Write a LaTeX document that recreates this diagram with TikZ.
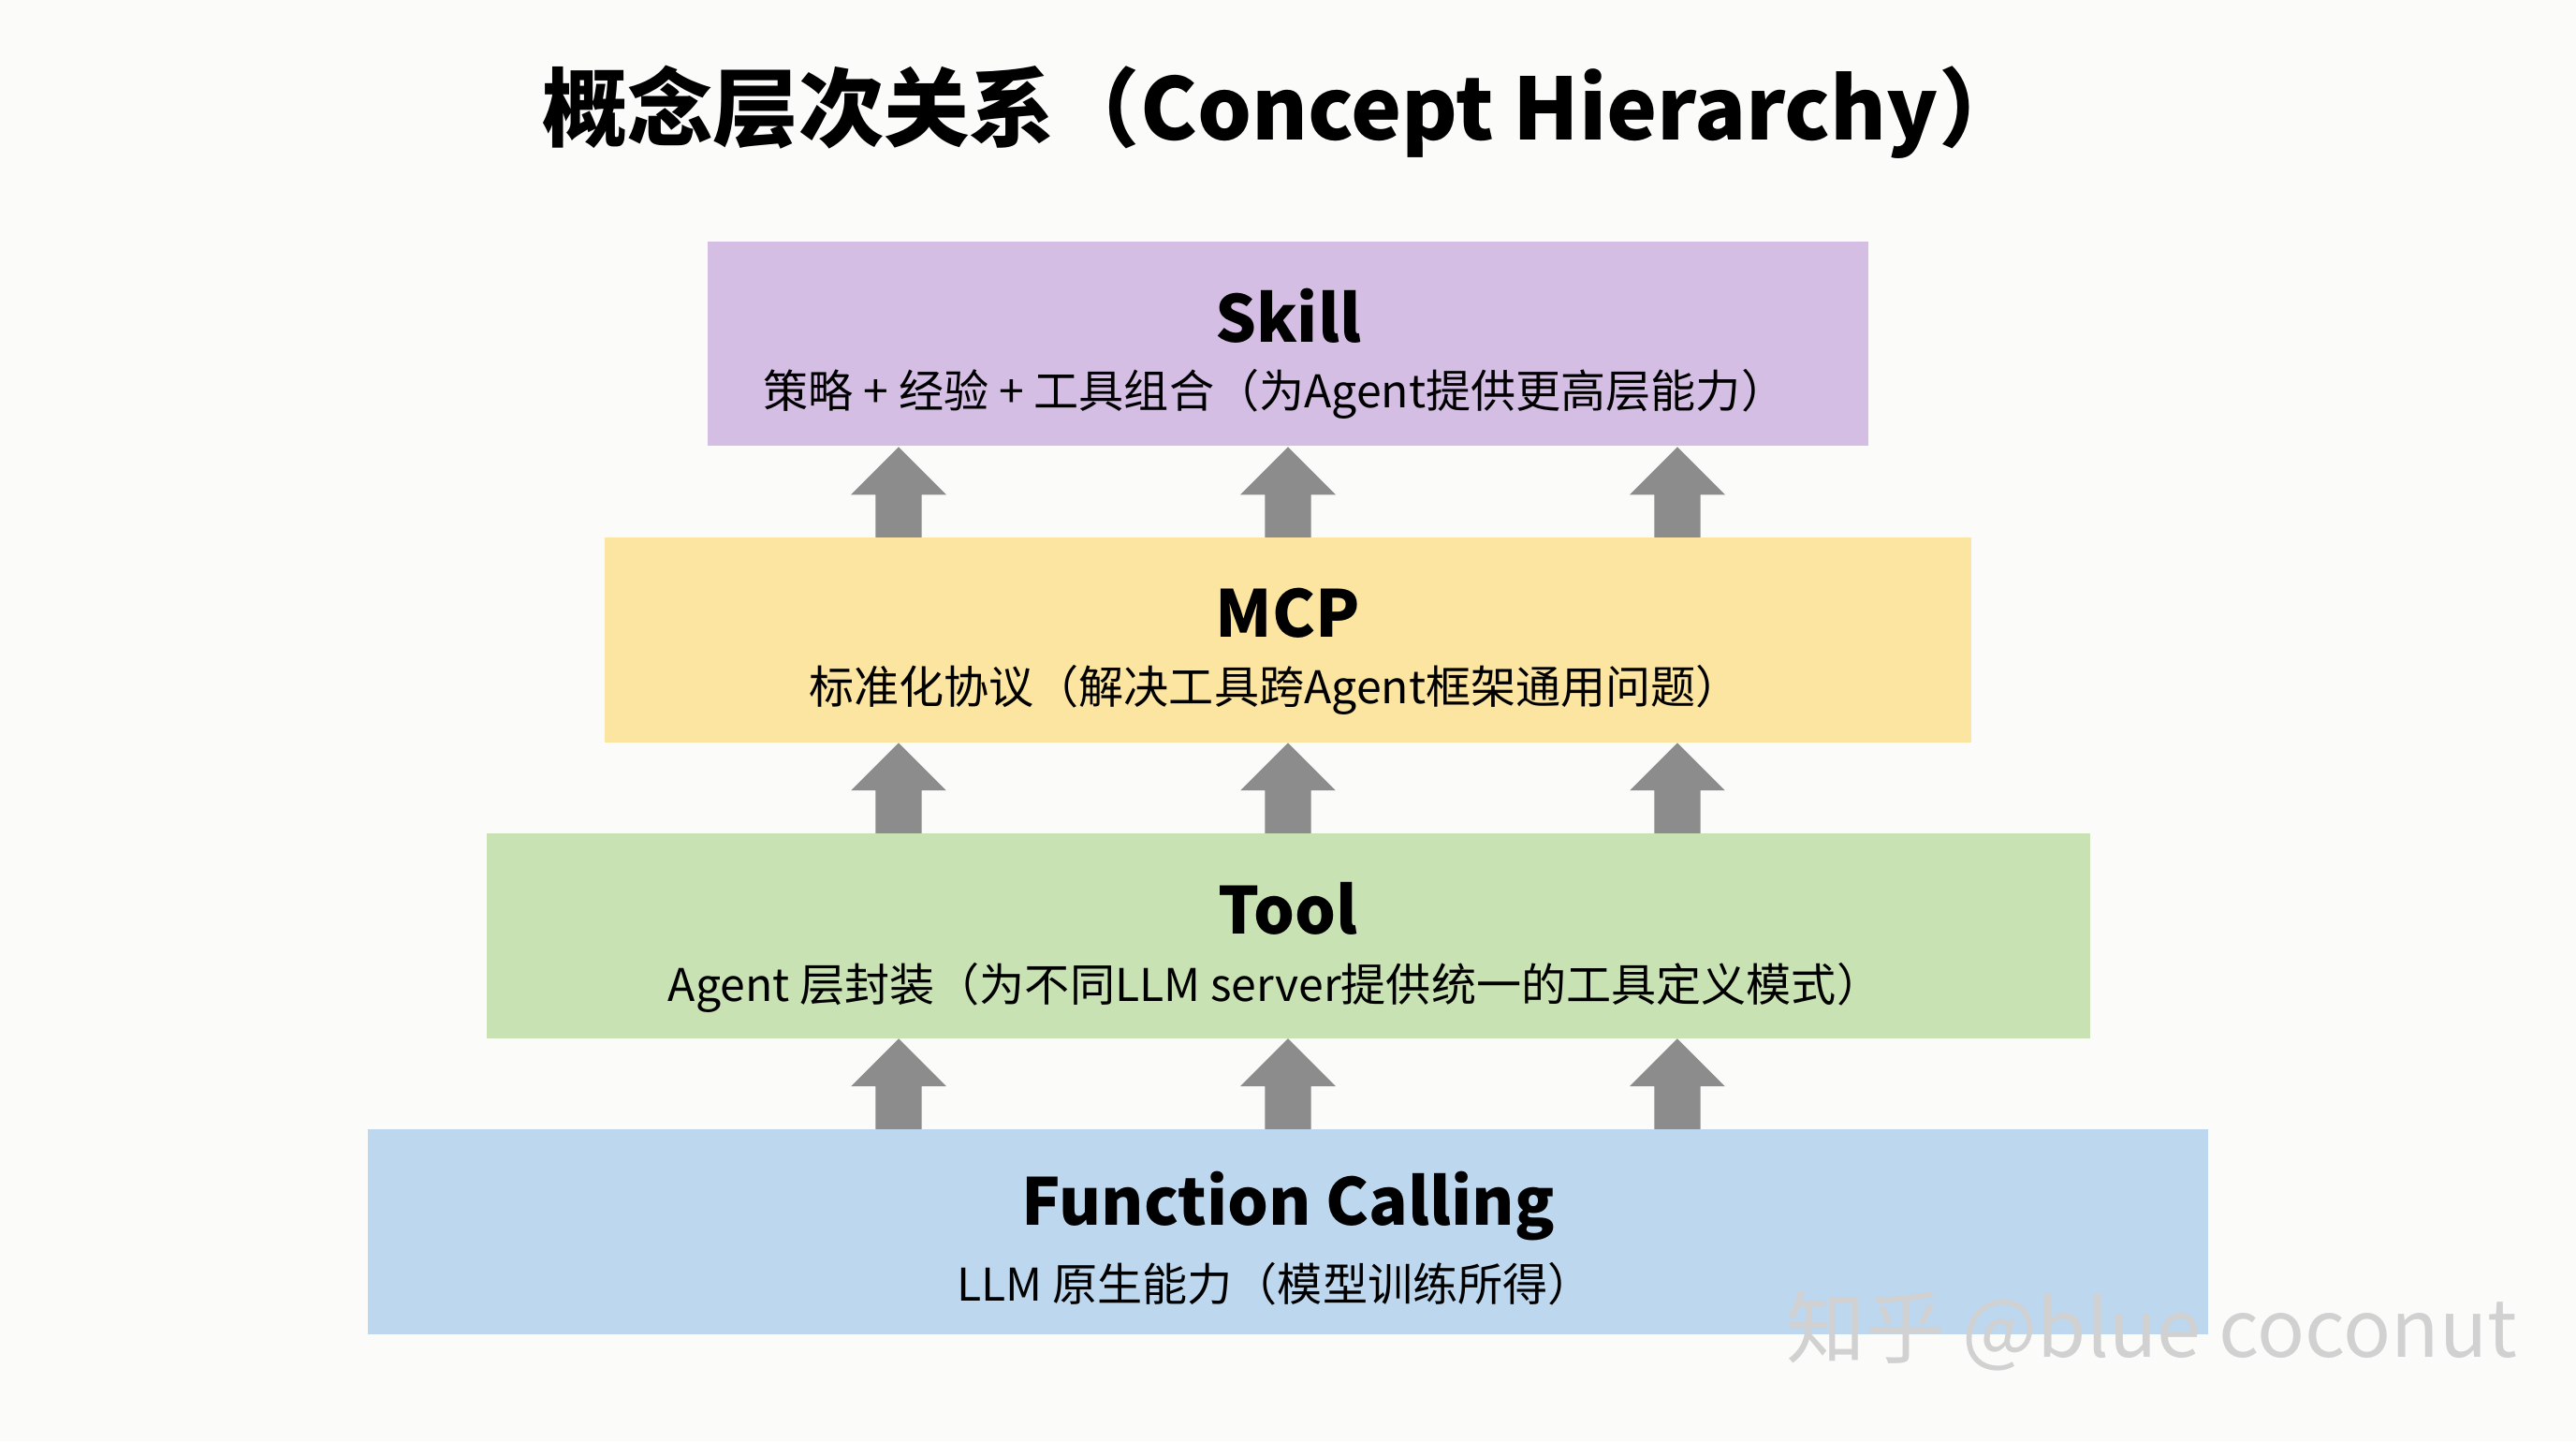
\documentclass[tikz,border=0pt]{standalone}
\usepackage{fontspec}
\setmainfont{Noto Sans CJK SC}
\definecolor{bgc}{HTML}{FBFBFA}
\definecolor{skillc}{HTML}{D4BEE4}
\definecolor{mcpc}{HTML}{FCE5A0}
\definecolor{toolc}{HTML}{C9E2B4}
\definecolor{fcc}{HTML}{BDD7EE}
\definecolor{arr}{HTML}{8C8C8C}
\begin{document}
\begin{tikzpicture}[x=0.1mm,y=-0.1mm,
  ttl/.style={font=\fontsize{11.2}{13}\selectfont\bfseries},
  sub/.style={font=\fontsize{7.8}{10}\selectfont}]
\fill[bgc] (0,0) rectangle (1568,877);
\useasboundingbox (0,0) rectangle (1568,877);
\node[font=\fontsize{14.8}{17}\selectfont\bfseries] (title) at (781,68) {概念层次关系（Concept Hierarchy）};
\fill[skillc] (431,147) rectangle (1137,271);
\fill[mcpc] (368,327) rectangle (1200,452);
\fill[toolc] (296,507) rectangle (1272,632);
\fill[fcc] (224,687) rectangle (1344,812);
\node[ttl] (s1) at (784,192) {Skill};
\node[sub] (s2) at (776,240) {策略 + 经验 + 工具组合（为Agent提供更高层能力）};
\node[ttl] (m1) at (784,373) {MCP};
\node[sub] (m2) at (776,420) {标准化协议（解决工具跨Agent框架通用问题）};
\node[ttl] (t1) at (784,553) {Tool};
\node[sub] (t2) at (776,601) {Agent 层封装（为不同LLM server提供统一的工具定义模式）};
\node[ttl] (f1) at (784,734) {Function Calling};
\node[sub] (f2) at (776,781) {LLM 原生能力（模型训练所得）};
\foreach \yt in {272,452,632}{
  \foreach \xc in {547,784,1021}{
    \fill[arr] (\xc,\yt) -- (\xc+29,\yt+29) -- (\xc+14,\yt+29) -- (\xc+14,\yt+55)
      -- (\xc-14,\yt+55) -- (\xc-14,\yt+29) -- (\xc-29,\yt+29) -- cycle;
  }
}
\node[text=black!18,font=\fontsize{13.7}{16}\selectfont] (wm) at (1310,810) {知乎 @blue coconut};
\end{tikzpicture}
\end{document}
